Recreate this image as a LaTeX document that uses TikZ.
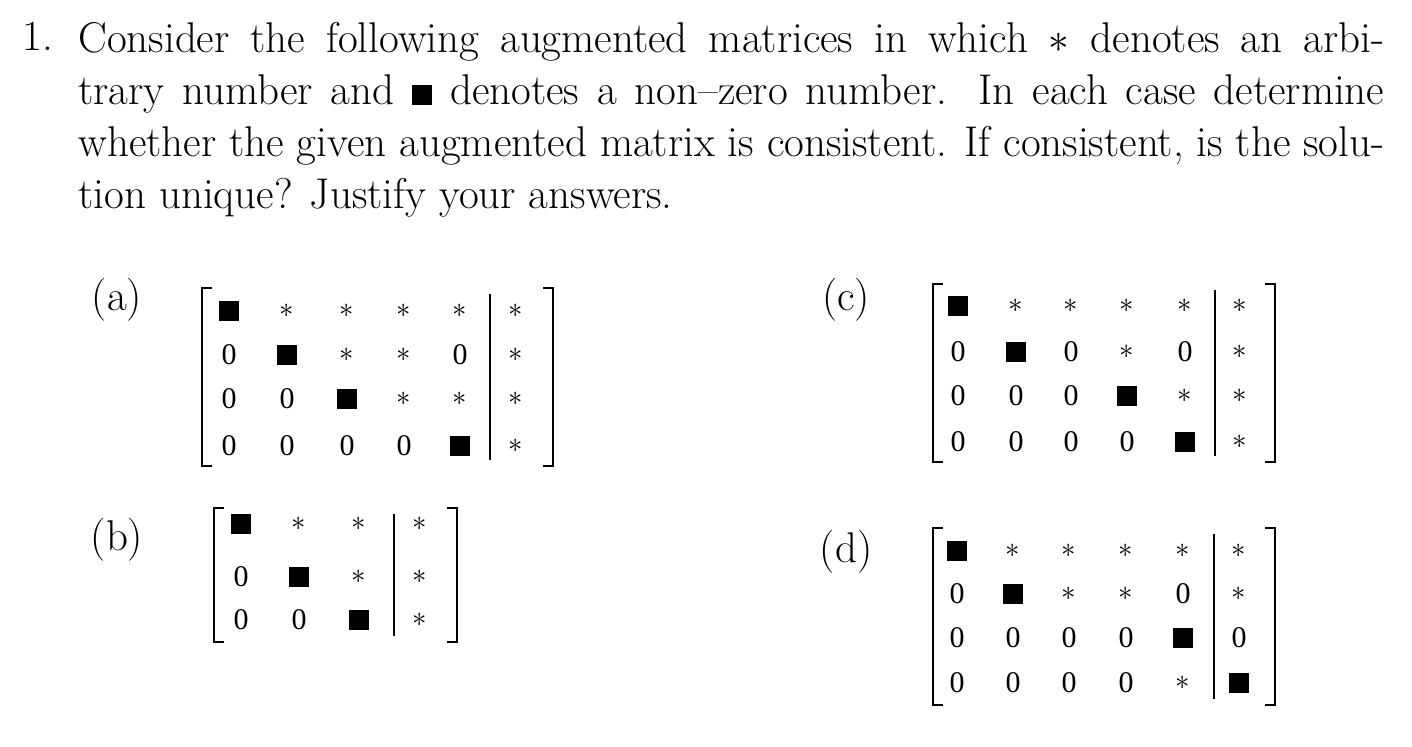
\documentclass[tikz,border=0pt]{standalone}
\usepackage{fontspec}
\newfontfamily\tms{Liberation Serif}
\newcommand\eS{\rule{10pt}{10pt}}
\newcommand\eA{$\ast$}
\newcommand\ez{0}
\tikzset{x=0.5pt,y=-0.5pt,
 ent/.style={font=\tms\fontsize{15}{15}\selectfont,inner sep=0pt,anchor=center},
 brk/.style={line width=1pt},
 vbar/.style={line width=0.6pt},
 lbl/.style={font=\fontsize{21.5}{26}\selectfont,inner sep=0pt}}
\newcommand\amat[7]{%
 \foreach \yy/\row in {#2}{\foreach \e [count=\i] in \row {\pgfmathsetmacro\xx{{#1}[\i-1]}\node[ent] at (\xx,\yy) {\csname e\e\endcsname};}}
 \draw[brk] (#3+10,#5) -- (#3,#5) -- (#3,#6) -- (#3+10,#6);
 \draw[brk] (#4-10,#5) -- (#4,#5) -- (#4,#6) -- (#4-10,#6);
 \draw[vbar] (#7,#5+6) -- (#7,#6-6);
}
\begin{document}
\begin{tikzpicture}
\useasboundingbox (0,0) rectangle (1412,746);
\node[lbl,anchor=north west] (num) at (22,22) {1.};
\node[lbl,anchor=north west,text width=653pt,align=justify] (txt) at (78,22)
{Consider the following augmented matrices in which $*$ denotes an arbi-\linebreak trary number and \rule{10pt}{10pt} denotes a non--zero number. In each case determine whether the given augmented matrix is consistent. If consistent, is the solution unique? Justify your answers.};
\node[lbl] (la) at (117,300) {(a)};
\node[lbl] (lc) at (846,300) {(c)};
\node[lbl] (lb) at (117,540) {(b)};
\node[lbl] (ld) at (846,552) {(d)};
\amat{229,287,347,404,460,516}{311/{S,A,A,A,A,A},355/{z,S,A,A,z,A},399/{z,z,S,A,A,A},446/{z,z,z,z,S,A}}{202}{553}{288}{466}{490}
\amat{958,1016,1071,1127,1185,1240}{306/{S,A,A,A,A,A},352/{z,S,z,A,z,A},396/{z,z,z,S,A,A},442/{z,z,z,z,S,A}}{933}{1275}{284}{462}{1215}
\amat{241,299,359,420}{524/{S,A,A,A},577/{z,S,A,A},620/{z,z,S,A}}{214}{457}{508}{642}{394}
\amat{957,1013,1069,1126,1183,1239}{551/{S,A,A,A,A,A},594/{z,S,A,A,z,A},638/{z,z,z,z,S,z},683/{z,z,z,z,A,S}}{933}{1275}{528}{705}{1214}
\end{tikzpicture}
\end{document}
